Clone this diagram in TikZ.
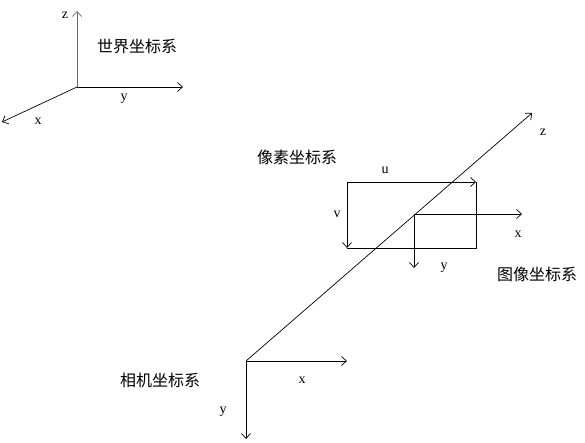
\documentclass[tikz,border=0pt]{standalone}
\usepackage{fontspec}
\setmainfont{Liberation Serif}
\newfontfamily\cjk{Noto Sans CJK SC}
\usetikzlibrary{arrows.meta}

\begin{document}
\begin{tikzpicture}[
  x=1pt, y=-1pt,
  axis/.style={-{Straight Barb[length=5pt, width=9pt]}, line width=0.7pt},
  edge/.style={line width=0.7pt},
  lbl/.style={font=\fontsize{14}{14}\selectfont, inner sep=0pt},
  title/.style={font=\cjk\fontsize{16}{16}\selectfont, inner sep=0pt}
]
\useasboundingbox (0,0) rectangle (585,442);

% world frame
\coordinate (wo) at (77,87);
\coordinate (wz) at (77,11);
\coordinate (wy) at (183,87);
\coordinate (wx) at (2,122);
\draw[axis, black!60] (wo) -- (wz);
\draw[axis] (wo) -- (wy);
\draw[axis] (wo) -- (wx);
\node[lbl] (wzl) at (65,15) {z};
\node[lbl] (wyl) at (124,99) {y};
\node[lbl] (wxl) at (38,121) {x};
\node[title] (wt) at (137,46) {世界坐标系};

% camera frame
\coordinate (co) at (246,361);
\coordinate (cz) at (532,113);
\coordinate (cx) at (347,361);
\coordinate (cy) at (246,439);
\draw[axis] (co) -- (cz);
\draw[axis] (co) -- (cx);
\draw[axis] (co) -- (cy);
\node[lbl] (czl) at (543,132) {z};
\node[lbl] (cxl) at (302,380) {x};
\node[lbl] (cyl) at (223,412) {y};
\node[title] (ct) at (160,380) {相机坐标系};

% pixel frame
\coordinate (po) at (347,182);
\coordinate (pu) at (476,182);
\coordinate (pv) at (347,248);
\coordinate (pc) at (476,248);
\draw[axis] (po) -- (pu);
\draw[axis] (po) -- (pv);
\draw[edge] (pu) -- (pc) -- (pv);
\node[lbl] (pul) at (385,170) {u};
\node[lbl] (pvl) at (337,214) {v};
\node[title] (pt) at (297,157) {像素坐标系};

% image frame
\coordinate (io) at (414,214);
\coordinate (ix) at (522,214);
\coordinate (iy) at (414,268);
\draw[axis] (io) -- (ix);
\draw[axis] (io) -- (iy);
\node[lbl] (ixl) at (518,234) {x};
\node[lbl] (iyl) at (444,268) {y};
\node[title] (it) at (537,274) {图像坐标系};
\end{tikzpicture}
\end{document}
